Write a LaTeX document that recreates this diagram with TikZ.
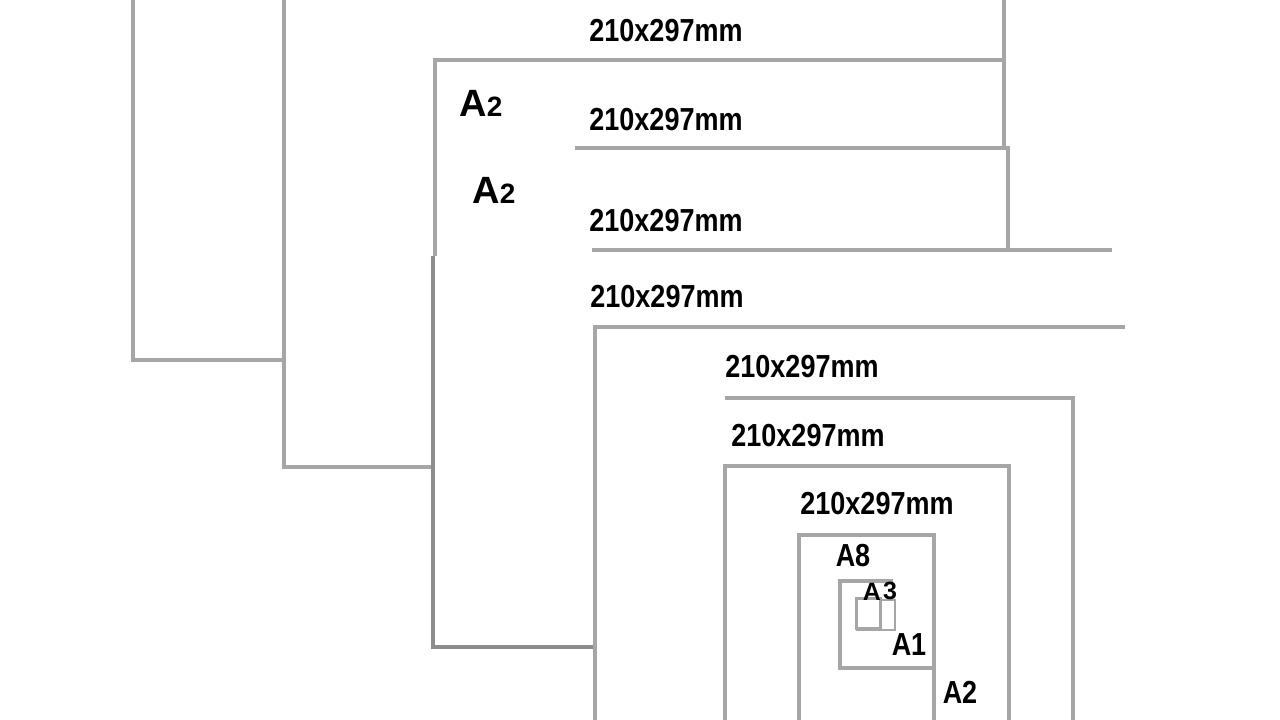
\documentclass[tikz,border=0pt]{standalone}
\usepackage{fontspec}
\setmainfont{Liberation Sans}
\newcommand{\tallsize}[1]{\scalebox{1}[1.18]{#1}}
\begin{document}
\begin{tikzpicture}[x=1pt, y=-1pt,
    edge/.style={draw=black!35, line width=4pt},
    dim/.style={font=\fontsize{27}{27}\selectfont\bfseries, inner sep=0pt},
    tag/.style={font=\fontsize{27}{27}\selectfont\bfseries, inner sep=0pt}]
    \useasboundingbox (0,0) rectangle (1280,720);
    % sheets, back to front
    \draw[edge] (133,0) -- (133,360) -- (284,360);
    \draw[edge] (284,0) -- (284,467) -- (434,467);
    \draw[edge] (1004,0) -- (1004,148);
    \draw[edge] (1004,60) -- (435,60) -- (435,256);
    \draw[edge, draw=black!45] (433,256) -- (433,647) -- (595,647);
    \draw[edge] (575,148) -- (1008,148) -- (1008,250);
    \draw[edge] (592,250) -- (1112,250);
    \draw[edge] (1125,327) -- (595,327) -- (595,720);
    \draw[edge] (725,398) -- (1073,398) -- (1073,720);
    \draw[edge] (725,720) -- (725,466) -- (1009,466) -- (1009,720);
    \draw[edge] (799,720) -- (799,535) -- (934,535) -- (934,720);
    \draw[edge] (893,581) -- (840,581) -- (840,668) -- (934,668);
    \draw[edge, line width=3pt] (856,598) rectangle (880,628);
    \draw[edge, line width=2pt] (880,600) -- (895,600) -- (895,630) -- (856,630);
    % sizes
    \node[dim] (s1) at (666,31) {\tallsize{210x297mm}};
    \node[dim] (s2) at (666,120) {\tallsize{210x297mm}};
    \node[dim] (s3) at (666,221) {\tallsize{210x297mm}};
    \node[dim] (s4) at (667,297) {\tallsize{210x297mm}};
    \node[dim] (s5) at (802,367) {\tallsize{210x297mm}};
    \node[dim] (s6) at (808,436) {\tallsize{210x297mm}};
    \node[dim] (s7) at (877,504) {\tallsize{210x297mm}};
    % names
    \node[tag, font=\fontsize{38}{38}\selectfont\bfseries] (n1) at (481,103) {A{\fontsize{28}{28}\selectfont 2}};
    \node[tag, font=\fontsize{38}{38}\selectfont\bfseries] (n2) at (494,190) {A{\fontsize{28}{28}\selectfont 2}};
    \node[tag] (n3) at (853,556) {\tallsize{A8}};
    \node[tag, font=\fontsize{25}{25}\selectfont\bfseries] (n4) at (872,592) {A};
    \node[tag, font=\fontsize{25}{25}\selectfont\bfseries] (n5) at (890,591) {3};
    \node[tag] (n6) at (909,645) {\tallsize{A1}};
    \node[tag] (n7) at (960,692) {\tallsize{A2}};
\end{tikzpicture}
\end{document}
